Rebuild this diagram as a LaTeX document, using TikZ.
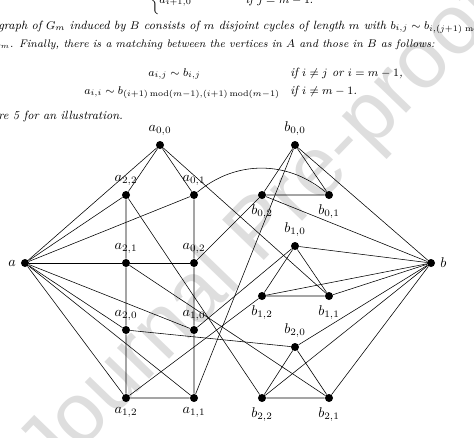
\documentclass[tikz,border=0pt]{standalone}
\usepackage{amssymb}
\usepackage{fontspec}
\newfontfamily\wmfont{Liberation Sans}
\tikzset{vtx/.style={circle,fill,inner sep=0pt,minimum size=5.7pt},
	txt/.style={anchor=base west,inner sep=0pt,font=\fontsize{8.5}{10}\selectfont\itshape}}
\begin{document}
\begin{tikzpicture}[x=0.025cm,y=-0.025cm]
				\useasboundingbox (0,0) rectangle (474,437);
				\clip (0,0) rectangle (474,437);
				\node[rotate=46,text=black!13,font=\wmfont\fontsize{60}{60}\selectfont] (wm) at (262,232) {Journal Pre-proof};
				\node[txt] (t1) at (150,3) {$\Big\{a_{i+1,0}$\hspace{4.5em}if $j=m-1.$};
				\node[txt] (t2) at (-2,29) {graph of $G_m$ induced by $B$ consists of $m$ disjoint cycles of length $m$ with $b_{i,j}\sim b_{i,(j+1)\bmod m}$};
				\node[txt,font=\fontsize{7.8}{10}\selectfont\itshape] (t3) at (-7,47) {$\mathbb{Z}_m$. Finally, there is a matching between the vertices in $A$ and those in $B$ as follows:};
				\node[txt] (t4) at (148,76) {$a_{i,j}\sim b_{i,j}$};
				\node[txt] (t5) at (290,76) {if $i\neq j$ or $i=m-1$,};
				\node[txt] (t6) at (84,94) {$a_{i,i}\sim b_{(i+1)\,\mathrm{mod}(m-1),(i+1)\,\mathrm{mod}(m-1)}$};
				\node[txt] (t7) at (290,94) {if $i\neq m-1$.};
				\node[txt] (t8) at (-2,119) {re 5 for an illustration.};
				\node[vtx,label=left:$a$] (a) at (25,263) {};
				\node[vtx,label=right:$b$] (b) at (431,263) {};
				\node[vtx,label=above:$a_{0,0}$] (a00) at (160,145) {};
				\node[vtx,label=above:$a_{2,2}$] (a22) at (126,195) {};
				\node[vtx,label=above:$a_{0,1}$] (a01) at (194,195) {};
				\node[vtx,label=above:$a_{2,1}$] (a21) at (126,263) {};
				\node[vtx,label=above:$a_{0,2}$] (a02) at (194,263) {};
				\node[vtx,label=above:$a_{2,0}$] (a20) at (126,330) {};
				\node[vtx,label=above:$a_{1,0}$] (a10) at (194,330) {};
				\node[vtx,label=below:$a_{1,2}$] (a12) at (126,398) {};
				\node[vtx,label=below:$a_{1,1}$] (a11) at (194,398) {};
				\node[vtx,label=above:$b_{0,0}$] (b00) at (295,145) {};
				\node[vtx,label=below:$b_{0,2}$] (b02) at (262,195) {};
				\node[vtx,label=below:$b_{0,1}$] (b01) at (329,195) {};
				\node[vtx,label=above:$b_{1,0}$] (b10) at (295,246) {};
				\node[vtx,label=below:$b_{1,2}$] (b12) at (262,296) {};
				\node[vtx,label=below:$b_{1,1}$] (b11) at (329,296) {};
				\node[vtx,label=above:$b_{2,0}$] (b20) at (295,347) {};
				\node[vtx,label=below:$b_{2,2}$] (b22) at (262,398) {};
				\node[vtx,label=below:$b_{2,1}$] (b21) at (329,398) {};
				\foreach \v in {a00,a22,a01,a21,a20,a10,a12,a11}
					\draw (a)-- (\v);
				\foreach \v in {b00,b02,b10,b12,b11,b20,b22,b21}
					\draw (b)-- (\v);
				\draw (a22)-- (a00)-- (a01)-- (a02)-- (a10)-- (a11)-- (a12)-- (a20)-- (a21)-- (a22);
				\draw (a21)-- (a02);
				\draw (b00)-- (b02)-- (b01)-- (b00);
				\draw (b10)-- (b12)-- (b11)-- (b10);
				\draw (b20)-- (b22)-- (b21)-- (b20);
				\draw (a01) to[bend left=40] (b01);
				\draw (a02)-- (b02);
				\draw (a10)-- (b10);
				\draw (a12)-- (b12);
				\draw (a20)-- (b20);
				\draw (a21)-- (b21);
				\draw (a22)-- (b22);
				\draw (a00)-- (b11);
				\draw (a11)-- (b00);
	\end{tikzpicture}
\end{document}
